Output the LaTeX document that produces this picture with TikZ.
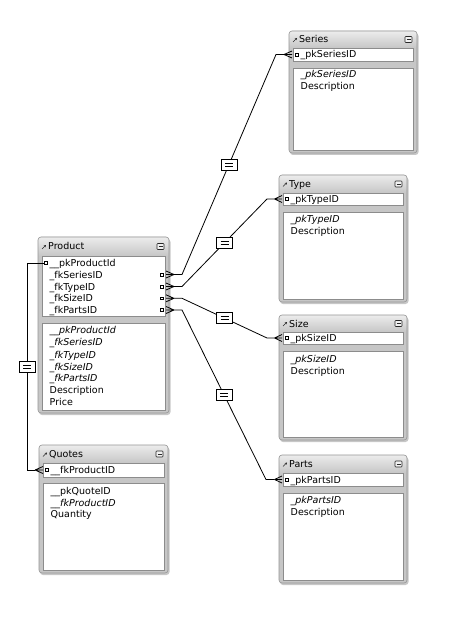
\documentclass[tikz,border=0pt]{standalone}
\usepackage{fontspec}
\setmainfont{DejaVu Sans}
\usetikzlibrary{arrows.meta}
\definecolor{frameC}{RGB}{198,198,198}
\definecolor{frameD}{RGB}{150,150,150}
\definecolor{titleT}{RGB}{236,236,236}
\definecolor{fieldB}{RGB}{140,140,140}
\definecolor{iconC}{RGB}{40,40,40}
\tikzset{
  fld/.style={anchor=base west, inner sep=0pt, font=\fontsize{9.5}{11}\selectfont},
  fldi/.style={anchor=base west, inner sep=0pt, font=\fontsize{9.5}{11}\selectfont\itshape},
  conn/.style={line width=0.8pt, black},
  eqbox/.style={draw=black, fill=white, line width=0.7pt, minimum width=16pt, minimum height=11pt, inner sep=0pt,
    path picture={\draw[line width=0.7pt] ([xshift=-4pt,yshift=1.6pt]path picture bounding box.center) -- ++(8pt,0pt)
      ([xshift=-4pt,yshift=-1.6pt]path picture bounding box.center) -- ++(8pt,0pt);}},
  keysq/.style={draw=black, fill=white, line width=0.45pt, minimum size=2.6pt, inner sep=0pt},
}
% #1 x1, #2 y1, #3 x2, #4 y2, #5 key top, #6 key bottom, #7 lower top
\newcommand\ertable[7]{%
  \fill[black,opacity=0.22,rounded corners=3pt] (#1+1,#2+2) rectangle (#3+1.5,#4+2);
  \fill[frameC,rounded corners=3pt] (#1,#2) rectangle (#3,#4);
  \begin{scope}
    \clip[rounded corners=3pt] (#1,#2) rectangle (#3,#4);
    \shade[top color=titleT,bottom color=frameC] (#1,#2) rectangle (#3,#5);
  \end{scope}
  \draw[frameD,line width=0.6pt,rounded corners=3pt] (#1,#2) rectangle (#3,#4);
  \draw[fill=white,draw=fieldB,line width=0.5pt] (#1+4,#5) rectangle (#3-4,#6);
  \draw[fill=white,draw=fieldB,line width=0.5pt] (#1+4,#7) rectangle (#3-4,#4-3);
  \draw[iconC,line width=0.6pt,-{Stealth[length=2.2pt,width=2.4pt]}] ({#1+4},{(#2+#5)/2+2.5}) -- ({#1+8},{(#2+#5)/2-1.5});
  \draw[iconC,fill=white!90!gray,line width=0.6pt,rounded corners=0.8pt] ({#3-12},{(#2+#5)/2-3}) rectangle ({#3-5},{(#2+#5)/2+3});
  \draw[iconC,line width=0.8pt] ({#3-10.5},{(#2+#5)/2}) -- ({#3-6.5},{(#2+#5)/2});
}
\newcommand\crowfoot[2]{\draw[conn] (#1) -- (#2) (#1) -- ([yshift=3.5pt]#2) (#1) -- ([yshift=-3.5pt]#2);}
\begin{document}
\begin{tikzpicture}[x=1pt,y=-1pt]
\useasboundingbox (0,0) rectangle (462,617);
\fill[white] (0,0) rectangle (462,617);

% ---------- tables ----------
\ertable{38}{237}{169}{413}{256}{316}{323}
\ertable{289}{31}{417}{153}{48}{61}{68}
\ertable{279}{175}{407}{302}{193}{205}{212}
\ertable{279}{315}{407}{440}{332}{344}{351}
\ertable{279}{455}{407}{583}{473}{486}{493}
\ertable{39}{445}{168}{573}{463}{477}{483}

% ---------- Product ----------
\node[fld] (tP) at (48,250) {Product};
\node[keysq] (sqP0) at (45.5,263) {};
\node[fld] (P0) at (49.5,266.5) {\_\_pkProductId};
\node[fld] (P1) at (49.5,278) {\_fkSeriesID};
\node[fld] (P2) at (49.5,290) {\_fkTypeID};
\node[fld] (P3) at (49.5,301.8) {\_fkSizeID};
\node[fld] (P4) at (49.5,313.5) {\_fkPartsID};
\node[keysq] (sqP1) at (161.5,274.5) {};
\node[keysq] (sqP2) at (161.5,286.5) {};
\node[keysq] (sqP3) at (161.5,298.3) {};
\node[keysq] (sqP4) at (161.5,310) {};
\node[fldi] (PL0) at (49.5,333) {\_\_pkProductId};
\node[fldi] (PL1) at (49.5,345.6) {\_fkSeriesID};
\node[fldi] (PL2) at (49.5,358) {\_fkTypeID};
\node[fldi] (PL3) at (49.5,370) {\_fkSizeID};
\node[fldi] (PL4) at (49.5,381.5) {\_fkPartsID};
\node[fld] (PL5) at (49.5,393.5) {Description};
\node[fld] (PL6) at (49.5,405.8) {Price};

% ---------- Series ----------
\node[fld] (tS) at (299,42.5) {Series};
\node[keysq] (sqS) at (296.5,54.5) {};
\node[fld] (S0) at (300.5,58) {\_pkSeriesID};
\node[fldi] (SL0) at (300.5,78) {\_pkSeriesID};
\node[fld] (SL1) at (300.5,90) {Description};

% ---------- Type ----------
\node[fld] (tT) at (289,187.5) {Type};
\node[keysq] (sqT) at (286.5,199) {};
\node[fld] (T0) at (290.5,202.5) {\_pkTypeID};
\node[fldi] (TL0) at (290.5,222.5) {\_pkTypeID};
\node[fld] (TL1) at (290.5,235) {Description};

% ---------- Size ----------
\node[fld] (tZ) at (289,327) {Size};
\node[keysq] (sqZ) at (286.5,338) {};
\node[fld] (Z0) at (290.5,341.5) {\_pkSizeID};
\node[fldi] (ZL0) at (290.5,362.3) {\_pkSizeID};
\node[fld] (ZL1) at (290.5,374.5) {Description};

% ---------- Parts ----------
\node[fld] (tR) at (289,467.5) {Parts};
\node[keysq] (sqR) at (286.5,479.5) {};
\node[fld] (R0) at (290.5,483) {\_pkPartsID};
\node[fldi] (RL0) at (290.5,503.5) {\_pkPartsID};
\node[fld] (RL1) at (290.5,515.5) {Description};

% ---------- Quotes ----------
\node[fld] (tQ) at (49,457.5) {Quotes};
\node[keysq] (sqQ) at (46.5,470) {};
\node[fld] (Q0) at (50.5,473.5) {\_\_fkProductID};
\node[fld] (QL0) at (50.5,494.5) {\_\_pkQuoteID};
\node[fldi] (QL1) at (50.5,506) {\_\_fkProductID};
\node[fld] (QL2) at (50.5,517.5) {Quantity};

% ---------- connection points ----------
\coordinate (pf1) at (166,274.5); \coordinate (pf1v) at (174,274.5); \coordinate (pf1b) at (182,274.5);
\coordinate (pf2) at (166,286.5); \coordinate (pf2v) at (174,286.5); \coordinate (pf2b) at (182,286.5);
\coordinate (pf3) at (166,298.3); \coordinate (pf3v) at (174,298.3); \coordinate (pf3b) at (182,298.3);
\coordinate (pf4) at (166,310);   \coordinate (pf4v) at (174,310);   \coordinate (pf4b) at (182,310);
\coordinate (sk) at (292,54.5);  \coordinate (skv) at (284,54.5);  \coordinate (skb) at (276,54.5);
\coordinate (tk) at (282,199);   \coordinate (tkv) at (274.5,199); \coordinate (tkb) at (267,199);
\coordinate (zk) at (282,338);   \coordinate (zkv) at (274.5,338); \coordinate (zkb) at (267,338);
\coordinate (rk) at (282,479.5); \coordinate (rkv) at (274.5,479.5); \coordinate (rkb) at (266,479.5);
\coordinate (ppk) at (44,263); \coordinate (pq1) at (27,263); \coordinate (pq2) at (27,470);
\coordinate (qkv) at (35,470); \coordinate (qk) at (43,470);

% ---------- connectors ----------
\draw[conn] (pf1v) -- (pf1b) -- node[eqbox] (e1) {} (skb) -- (skv);
\draw[conn] (pf2v) -- (pf2b) -- node[eqbox] (e2) {} (tkb) -- (tkv);
\draw[conn] (pf3v) -- (pf3b) -- node[eqbox] (e3) {} (zkb) -- (zkv);
\draw[conn] (pf4v) -- (pf4b) -- node[eqbox] (e4) {} (rkb) -- (rkv);
\draw[conn] (ppk) -- (pq1) -- node[eqbox] (e5) {} (pq2) -- (qkv);
\crowfoot{pf1v}{pf1}
\crowfoot{pf2v}{pf2}
\crowfoot{pf3v}{pf3}
\crowfoot{pf4v}{pf4}
\crowfoot{skv}{sk}
\crowfoot{tkv}{tk}
\crowfoot{zkv}{zk}
\crowfoot{rkv}{rk}
\crowfoot{qkv}{qk}
\end{tikzpicture}
\end{document}
